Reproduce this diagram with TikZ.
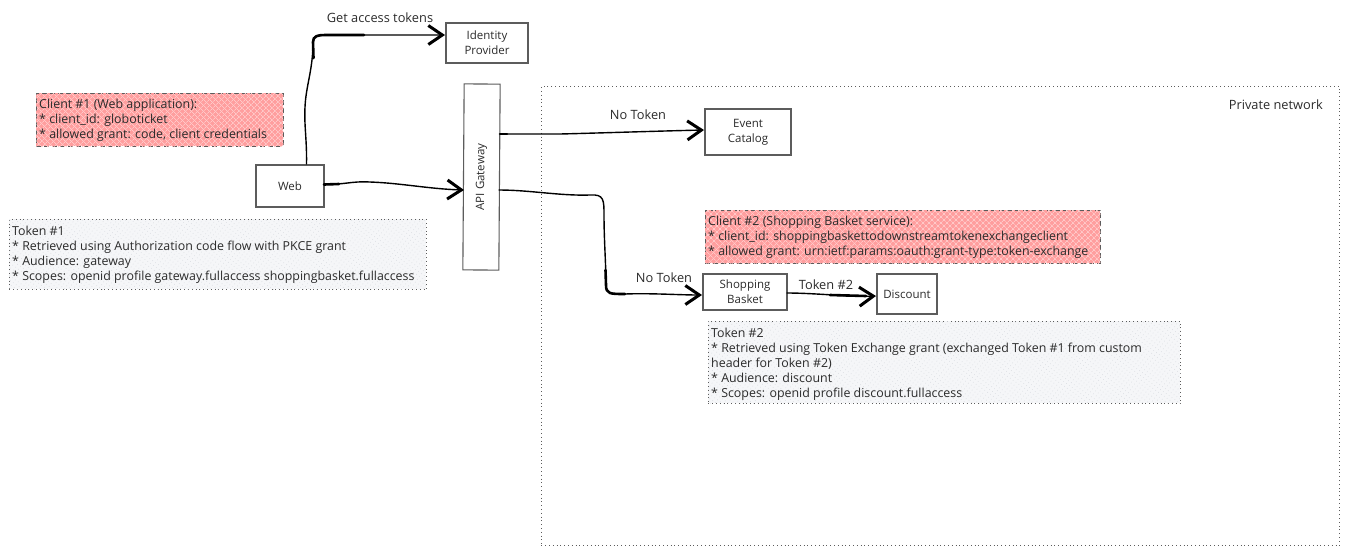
\documentclass[tikz,border=0pt]{standalone}
\usepackage{fontspec}
\setmainfont{Open Sans}
\usetikzlibrary{arrows.meta,patterns.meta,calc}
\definecolor{ink}{HTML}{2B2B2B}
\definecolor{edge}{HTML}{5C5C5C}
\definecolor{redbase}{HTML}{FF9E9E}
\definecolor{redhatch}{HTML}{FFC8C8}
\definecolor{greybase}{HTML}{F5F6F8}
\definecolor{greyhatch}{HTML}{DADDE1}
\tikzset{
  box/.style={draw=edge,line width=1.1pt,fill=white,text=ink,align=center,inner sep=0pt,font=\fontsize{11.5}{15}\selectfont},
  note/.style={anchor=north west,inner sep=0pt,text=ink,align=left,font=\fontsize{12.4}{15}\selectfont},
  redarea/.style={draw=edge,line width=.9pt,dash pattern=on 5pt off 3pt,fill=redbase,
    postaction={pattern={Lines[angle=45,distance=4pt,line width=.7pt]},pattern color=redhatch},
    postaction={pattern={Lines[angle=-45,distance=4pt,line width=.7pt]},pattern color=redhatch}},
  greyarea/.style={draw=edge,line width=.8pt,dash pattern=on .8pt off 3pt,fill=greybase,
    postaction={pattern={Lines[angle=55,distance=3.5pt,line width=.5pt]},pattern color=greyhatch}},
  label/.style={text=ink,inner sep=0pt,font=\fontsize{12.8}{14}\selectfont},
  link/.style={draw=black,line width=1.4pt,line cap=round,line join=round,
    -{Straight Barb[length=14pt,width=19pt,line width=3pt]}},
  thick part/.style={draw=black,line width=2.6pt,line cap=round}
}
\begin{document}
\begin{tikzpicture}[x=1pt,y=-1pt]
\useasboundingbox (0,0) rectangle (1354,558);
% private network
\node[draw=edge,line width=.8pt,dash pattern=on .8pt off 3pt,minimum width=798pt,minimum height=459pt,inner sep=0pt,anchor=north west] (private) at (541,86) {};
\node[label,anchor=east] (privatelabel) at (1323,105) {Private network};
% notes
\node[redarea,minimum width=247pt,minimum height=53pt,inner sep=0pt,anchor=north west] (clientone) at (36,93) {};
\node[note] (clientonetext) at (39,98.5) {Client \#1 (Web application):\\* client\_id: globoticket\\* allowed grant: code, client credentials};
\node[greyarea,minimum width=417pt,minimum height=70pt,inner sep=0pt,anchor=north west] (tokenone) at (9,219) {};
\node[note] (tokenonetext) at (12,226) {Token \#1\\* Retrieved using Authorization code flow with PKCE grant\\* Audience: gateway\\* Scopes: openid profile gateway.fullaccess shoppingbasket.fullaccess};
\node[redarea,minimum width=395pt,minimum height=53pt,inner sep=0pt,anchor=north west] (clienttwo) at (705,210) {};
\node[note] (clienttwotext) at (708,215.5) {Client \#2 (Shopping Basket service):\\* client\_id: shoppingbaskettodownstreamtokenexchangeclient\\* allowed grant: urn:ietf:params:oauth:grant-type:token-exchange};
\node[greyarea,minimum width=472pt,minimum height=82pt,inner sep=0pt,anchor=north west] (tokentwo) at (708,321) {};
\node[note] (tokentwotext) at (711,328) {Token \#2\\* Retrieved using Token Exchange grant (exchanged Token \#1 from custom\\header for Token \#2)\\* Audience: discount\\* Scopes: openid profile discount.fullaccess};
% boxes
\node[box,minimum width=82pt,minimum height=40pt] (identity) at (487,43) {Identity\\Provider};
\node[box,minimum width=186pt,minimum height=36pt,rotate=89.6] (gateway) at (481.5,177) {API Gateway};
\node[box,minimum width=68pt,minimum height=42pt] (web) at (290,186) {Web};
\node[box,minimum width=86pt,minimum height=46pt] (event) at (748,132) {Event\\Catalog};
\node[box,minimum width=84pt,minimum height=36pt] (shopping) at (745,292) {Shopping\\Basket};
\node[box,minimum width=60pt,minimum height=40pt] (discount) at (907,294) {Discount};
% connector helper points
\coordinate (wa) at (306.5,164);
\coordinate (gwin) at (464,190);
\coordinate (gwouta) at (500,134);
\coordinate (gwoutb) at (499,190);
\coordinate (shopin) at (702,295);
\coordinate (shopout) at (787,293);
\coordinate (discin) at (876,296);
\coordinate (idin) at (445,35);
\coordinate (eventin) at (704,130);
\coordinate (webout) at (324,184);
% connectors
\draw[link] (wa) .. controls (307,140) and (304,125) .. (305,107)
  .. controls (306,85) and (313,70) .. (313,42)
  .. controls (313,35) and (318,35) .. (325,35) -- (idin);
\draw[thick part] (313.5,58) -- (313,42) .. controls (313,36) and (318,35) .. (325,35) -- (364,35);
\draw[link] (webout) .. controls (345,185) and (350,181) .. (370,182)
  .. controls (400,183) and (430,189) .. (gwin);
\draw[thick part] (324,184.5) -- (339,184);
\draw[link] (gwouta) -- (560,134) .. controls (600,133) and (660,131) .. (eventin);
\draw[thick part] (500,134) -- (507,134);
\draw[link] (gwoutb) .. controls (530,190) and (560,196) .. (590,195)
  .. controls (604,194) and (604,200) .. (604,215)
  .. controls (604,240) and (606,265) .. (606,285)
  .. controls (606,294) and (610,294) .. (625,294)
  .. controls (650,293) and (680,295) .. (shopin);
\draw[thick part] (605.5,270) -- (606,285) .. controls (606,294) and (610,294) .. (625,294);
\draw[link] (shopout) .. controls (815,293) and (850,297) .. (discin);
\draw[thick part] (830,295) -- (866,296);
% labels
\node[label] (getlabel) at (380,17.5) {Get access tokens};
\node[label] (notokena) at (638,115) {No Token};
\node[label] (notokenb) at (664,278) {No Token};
\node[label] (tokenlabel) at (826,284.5) {Token \#2};
\end{tikzpicture}
\end{document}
